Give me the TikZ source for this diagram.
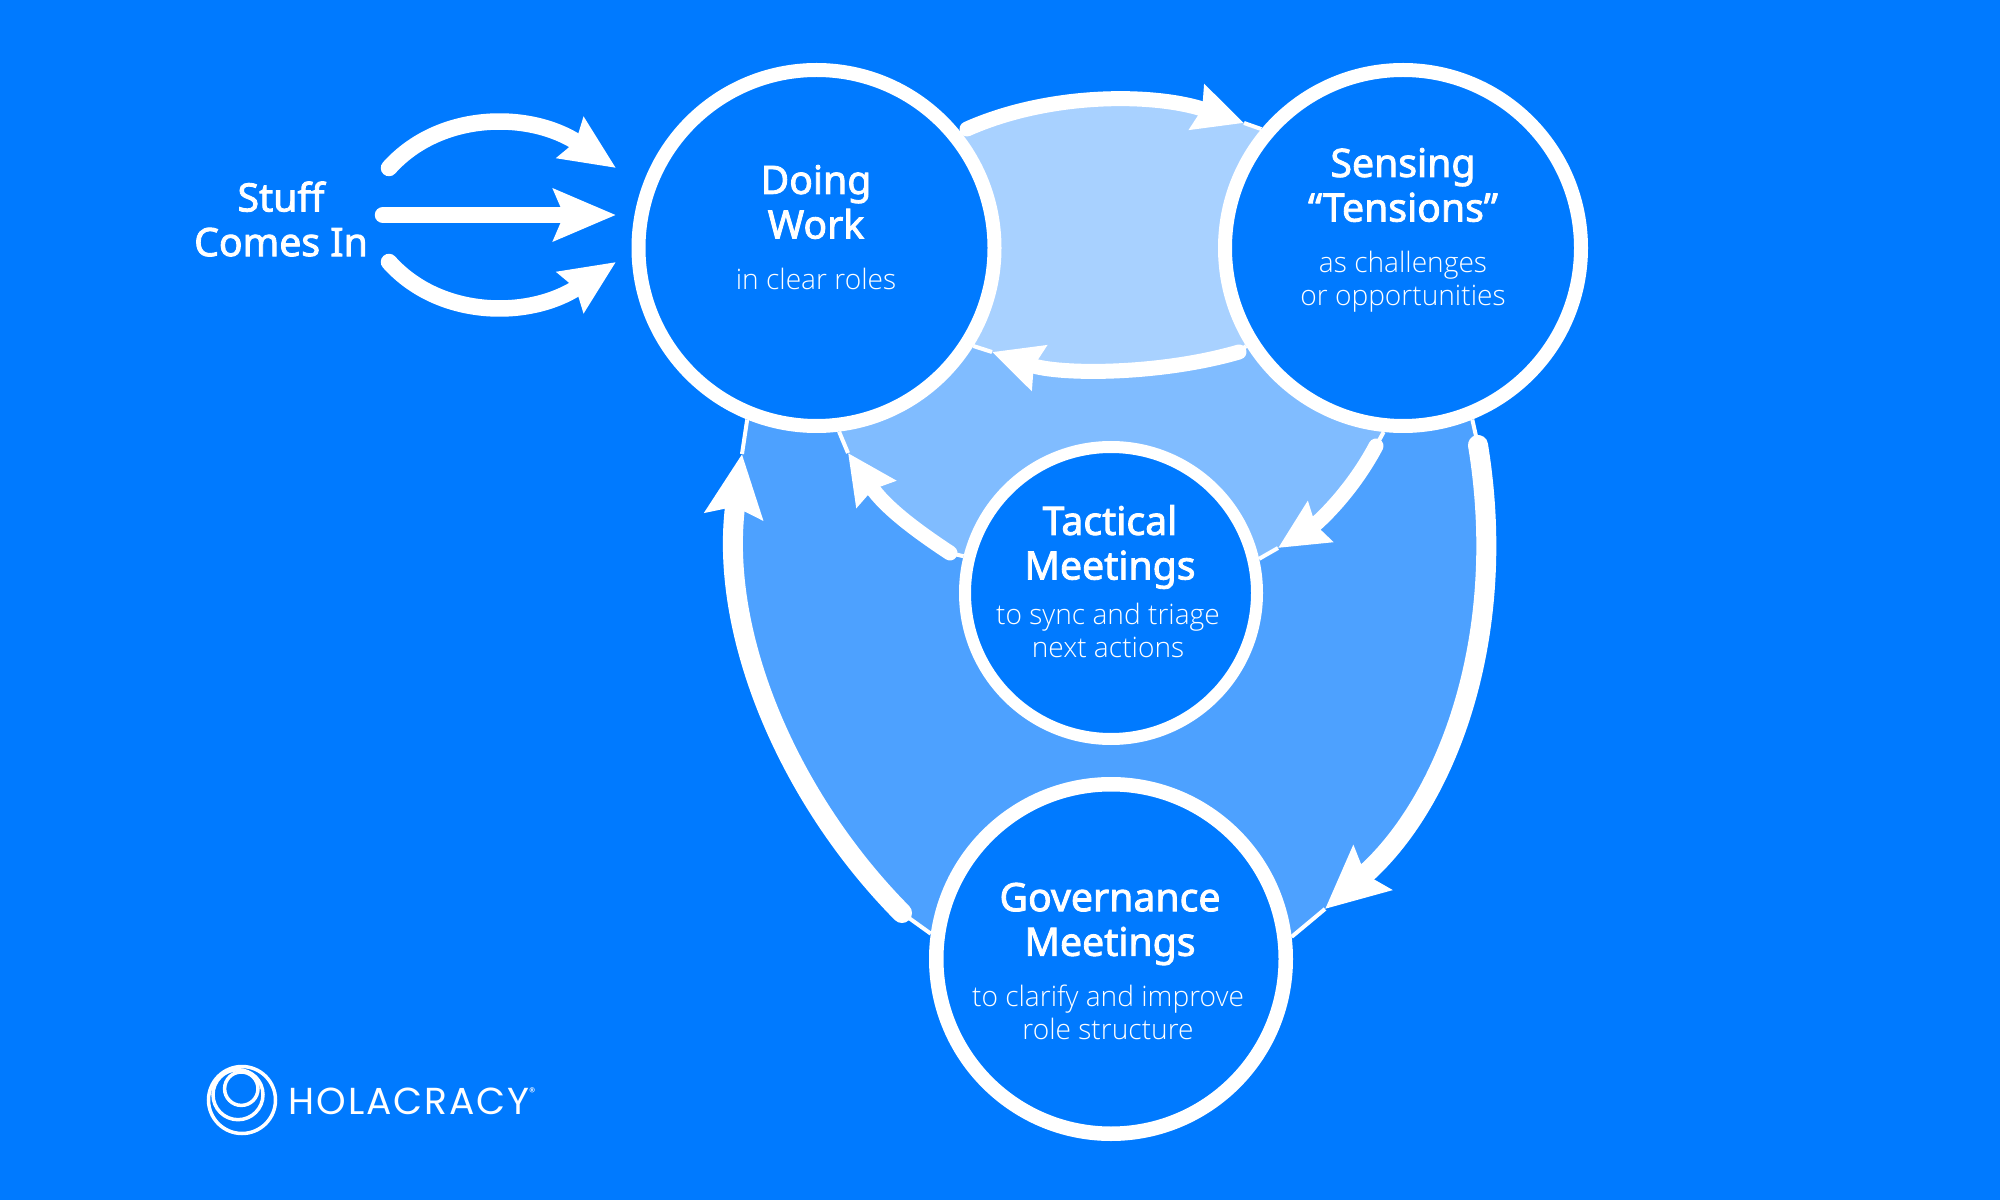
\documentclass[tikz,border=0pt]{standalone}
\usepackage{fontspec}
\usetikzlibrary{arrows.meta}
\setmainfont{Noto Sans}
\newfontfamily\headfont[FakeBold=2.2]{Noto Sans}
\newfontfamily\lightfont{Open Sans Light}
\newfontfamily\logofont[LetterSpace=5]{Poppins}
\definecolor{sky}{HTML}{007AFF}
\definecolor{outerblue}{HTML}{4DA1FF}
\definecolor{midblue}{HTML}{80BCFF}
\definecolor{topblue}{HTML}{A8D1FF}

\begin{document}
\begin{tikzpicture}[
                ring/.style={ circle, draw = white, fill = sky, inner sep = 0pt },
                heading/.style={ text = white, align = center, font = \headfont\fontsize{11.15}{12.7}\selectfont },
                subtext/.style={ text = white, align = center, font = \lightfont\fontsize{8.0}{9.4}\selectfont },
                thinlink/.style={ draw = white, line width = .04cm },
                bigarc/.style={ draw = white, line width = .20cm, line cap = round, -{Stealth[length=.62cm, width=.57cm, inset=.09cm]} },
                midarc/.style={ draw = white, line width = .15cm, line cap = round, -{Stealth[length=.49cm, width=.46cm, inset=.05cm]} },
                inarc/.style={ draw = white, line width = .165cm, line cap = round, -{Stealth[length=.54cm, width=.47cm, inset=.06cm]} },
                instraight/.style={ draw = white, line width = .165cm, line cap = round, -{Stealth[length=.62cm, width=.51cm, inset=.10cm]} }
            ]
            \useasboundingbox (0, 0) rectangle (20, 12);
            \fill [sky] (0, 0) rectangle (20, 12);

            \node (doing)      [circle, inner sep = 0pt, minimum size = 3.56cm, line width = .14cm]  at (8.165, 9.52) {};
            \node (sensing)    [circle, inner sep = 0pt, minimum size = 3.56cm, line width = .14cm]  at (14.03, 9.52) {};
            \node (tactical)   [circle, inner sep = 0pt, minimum size = 2.92cm, line width = .12cm]  at (11.11, 6.07) {};
            \node (governance) [circle, inner sep = 0pt, minimum size = 3.495cm, line width = .145cm] at (11.11, 2.41) {};

            \coordinate (topTail)   at (9.67, 10.71);
            \coordinate (topTip)    at (12.44, 10.77);
            \coordinate (lowTail)   at (12.39, 8.48);
            \coordinate (lowTip)    at (9.92, 8.48);
            \coordinate (backTail)  at (9.50, 6.47);
            \coordinate (backTip)   at (8.48, 7.47);
            \coordinate (downTail)  at (13.76, 7.54);
            \coordinate (downTip)   at (12.78, 6.52);
            \coordinate (loopTail)  at (14.78, 7.55);
            \coordinate (loopTip)   at (13.25, 2.91);
            \coordinate (roleTail)  at (9.02, 2.87);
            \coordinate (roleTip)   at (7.42, 7.46);
            \coordinate (upTail)    at (3.89, 10.32);
            \coordinate (upTip)     at (6.16, 10.32);
            \coordinate (flatTail)  at (3.83, 9.85);
            \coordinate (flatTip)   at (6.16, 9.85);
            \coordinate (dipTail)   at (3.89, 9.38);
            \coordinate (dipTip)    at (6.16, 9.38);

            \fill [outerblue] (doing.center) -- (doing.248) -- (roleTip)
                .. controls (7.18, 5.65) and (7.90, 4.00) .. (roleTail) -- (governance.172) -- (governance.center) -- (governance.7) -- (loopTip)
                .. controls (14.45, 3.95) and (15.10, 5.60) .. (loopTail) -- (sensing.292) -- (sensing.center) -- cycle;
            \fill [midblue] (doing.center) -- (doing.277) -- (backTip)
                .. controls (8.85, 6.93) and (9.15, 6.70) .. (backTail) -- (tactical.166) -- (tactical.center) -- (tactical.13) -- (downTip)
                .. controls (13.15, 6.75) and (13.50, 7.05) .. (downTail) -- (sensing.264) -- (sensing.center) -- cycle;
            \fill [topblue] (doing.center) -- (doing.38) -- (topTail)
                .. controls (10.50, 11.08) and (11.55, 11.07) .. (topTip) -- (sensing.140) -- (sensing.center) -- (sensing.212) -- (lowTail)
                .. controls (11.60, 8.25) and (10.60, 8.25) .. (lowTip) -- (doing.328) -- cycle;

            \draw [thinlink] (doing.38) -- (topTail);
            \draw [thinlink] (topTip) -- (sensing.140);
            \draw [thinlink] (sensing.212) -- (lowTail);
            \draw [thinlink] (lowTip) -- (doing.328);
            \draw [thinlink] (sensing.264) -- (downTail);
            \draw [thinlink] (downTip) -- (tactical.13);
            \draw [thinlink] (tactical.166) -- (backTail);
            \draw [thinlink] (backTip) -- (doing.277);
            \draw [thinlink] (sensing.292) -- (loopTail);
            \draw [thinlink] (loopTip) -- (governance.7);
            \draw [thinlink] (governance.172) -- (roleTail);
            \draw [thinlink] (roleTip) -- (doing.248);

            \draw [midarc] (topTail) .. controls (10.50, 11.08) and (11.55, 11.07) .. (topTip);
            \draw [midarc] (lowTail) .. controls (11.60, 8.25) and (10.60, 8.25) .. (lowTip);
            \draw [midarc] (downTail) .. controls (13.50, 7.05) and (13.15, 6.75) .. (downTip);
            \draw [midarc] (backTail) .. controls (9.15, 6.70) and (8.85, 6.93) .. (backTip);
            \draw [bigarc] (loopTail) .. controls (15.10, 5.60) and (14.45, 3.95) .. (loopTip);
            \draw [bigarc] (roleTail) .. controls (7.90, 4.00) and (7.18, 5.65) .. (roleTip);

            \draw [instraight] (flatTail) -- (flatTip);
            \draw [inarc] (upTail) .. controls (4.40, 10.89) and (5.30, 10.89) .. (upTip);
            \draw [inarc] (dipTail) .. controls (4.40, 8.81) and (5.30, 8.81) .. (dipTip);

            \node [ring, minimum size = 3.56cm, line width = .14cm]  at (doing) {};
            \node [ring, minimum size = 3.56cm, line width = .14cm]  at (sensing) {};
            \node [ring, minimum size = 2.92cm, line width = .12cm]  at (tactical) {};
            \node [ring, minimum size = 3.495cm, line width = .145cm] at (governance) {};

            \node (stuff)       [heading] at (2.81, 9.81)  {Stuff\\Comes In};
            \node (doingTitle)  [heading] at (8.16, 9.98)  {Doing\\Work};
            \node (doingSub)    [subtext] at (8.16, 9.21)  {in clear roles};
            \node (senseTitle)  [heading] at (14.03, 10.15) {Sensing\\“Tensions”};
            \node (senseSub)    [subtext] at (14.03, 9.18) {as challenges\\or opportunities};
            \node (tactTitle)   [heading] at (11.10, 6.53) {Tactical\\Meetings};
            \node (tactSub)     [subtext] at (11.08, 5.70) {to sync and triage\\next actions};
            \node (govTitle)    [heading] at (11.10, 2.76) {Governance\\Meetings};
            \node (govSub)      [subtext] at (11.08, 1.88) {to clarify and improve\\role structure};

            \draw [white, line width = .035cm] (2.42, 1.00) circle (.335);
            \draw [white, line width = .035cm] (2.38, 1.053) circle (.25);
            \draw [white, line width = .035cm] (2.413, 1.113) circle (.167);
            \node (logoText) [anchor = base west, text = white, inner sep = 0pt, font = \logofont\fontsize{10.7}{12}\selectfont] at (2.88, .86) {HOLACRACY\raisebox{.85ex}{\fontsize{3.5}{4}\selectfont ®}};
        \end{tikzpicture}
\end{document}
